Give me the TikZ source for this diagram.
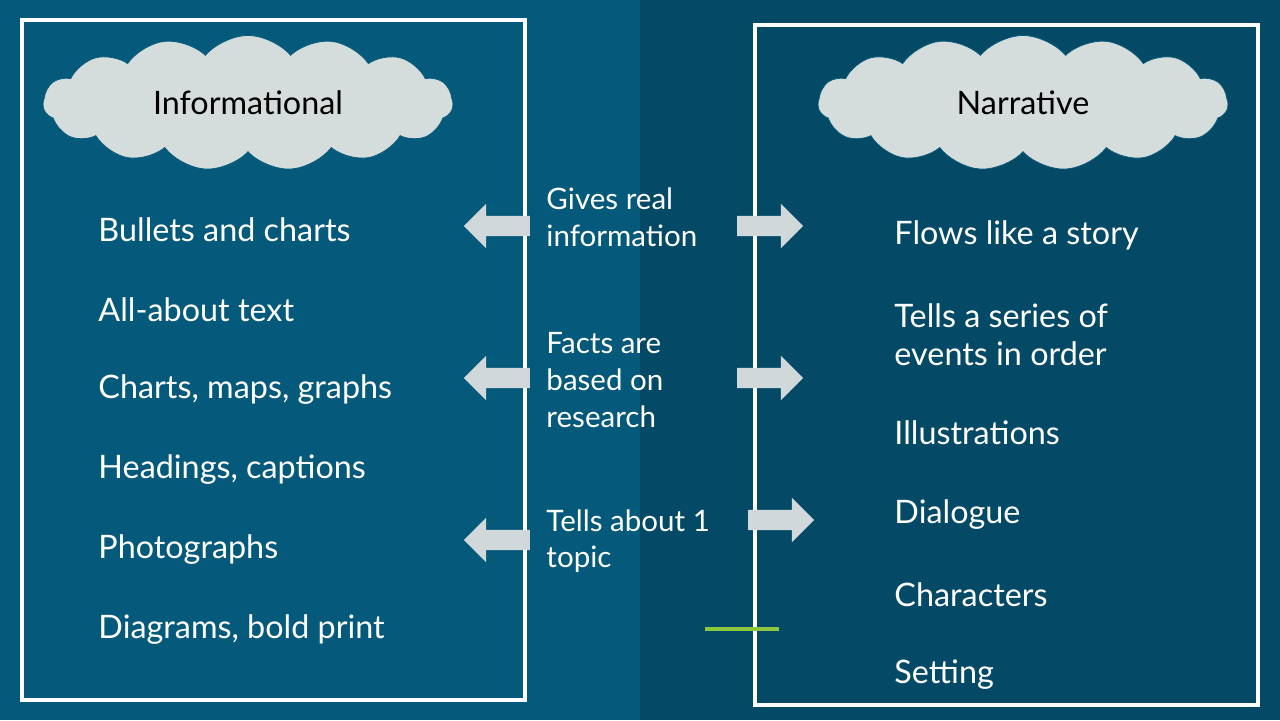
\documentclass[tikz,border=0pt]{standalone}
\usepackage{fontspec}
\setmainfont{Lato}
\usetikzlibrary{shapes.symbols,shapes.arrows}
\definecolor{bgL}{HTML}{05597A}
\definecolor{bgR}{HTML}{044A66}
\definecolor{cloudc}{HTML}{D4DCDC}
\definecolor{arrc}{HTML}{D0D8DA}
\definecolor{grn}{HTML}{8DC63F}
\tikzset{
 box/.style={draw=white,line width=4.5pt},
 cloudbox/.style={cloud,cloud puffs=15,cloud puff arc=100,aspect=3.2,fill=cloudc,draw=bgL,line width=1pt,minimum width=410*0.05cm,minimum height=135*0.05cm,font=\fontsize{46}{50}\selectfont,text=black},
 item/.style={anchor=west,text=white,font=\fontsize{46}{54}\selectfont,align=left},
 mid/.style={anchor=west,text=white,font=\fontsize{42}{52}\selectfont,align=left},
 arr/.style={single arrow,fill=arrc,draw=none,minimum height=66*0.05cm,inner xsep=0pt,inner ysep=0.5cm,single arrow head extend=0.6cm,single arrow head indent=0pt},
}
\begin{document}
\begin{tikzpicture}[x=0.05cm,y=-0.05cm]
\fill[bgL] (0,0) rectangle (640,720);
\fill[bgR] (640,0) rectangle (1280,720);
\useasboundingbox (0,0) rectangle (1280,720);
\draw[box] (22,20) rectangle (525,700);
\draw[box] (755,25) rectangle (1258,705);
\node[cloudbox] (c1) at (248,103) {Informational};
\node[cloudbox] (c2) at (1023,103) {Narrative};
\node[item] (l1) at (96,230) {Bullets and charts};
\node[item] (l2) at (96,310) {All-about text};
\node[item] (l3) at (96,390) {Charts, maps, graphs};
\node[item] (l4) at (96,470) {Headings, captions};
\node[item] (l5) at (96,550) {Photographs};
\node[item] (l6) at (96,630) {Diagrams, bold print};
\node[item] (r1) at (892,235) {Flows like a story};
\node[item] (r2) at (892,335) {Tells a series of\\events in order};
\node[item] (r3) at (892,433) {Illustrations};
\node[item] (r4) at (892,515) {Dialogue};
\node[item] (r5) at (892,595) {Characters};
\node[item] (r6) at (892,675) {Setting};
\node[mid] (m1) at (544,217) {Gives real\\information};
\node[mid] (m2) at (544,380) {Facts are\\based on\\research};
\node[mid] (m3) at (544,541) {Tells about 1\\topic};
\node[arr,shape border rotate=180] (a1) at (502,226) {};
\node[arr,shape border rotate=180] (a2) at (502,378) {};
\node[arr,shape border rotate=180] (a3) at (502,540) {};
\node[arr] (b1) at (765,226) {};
\node[arr] (b2) at (765,378) {};
\node[arr] (b3) at (776,520) {};
\draw[grn,line width=5pt] (705,629) -- (779,629);
\end{tikzpicture}
\end{document}
